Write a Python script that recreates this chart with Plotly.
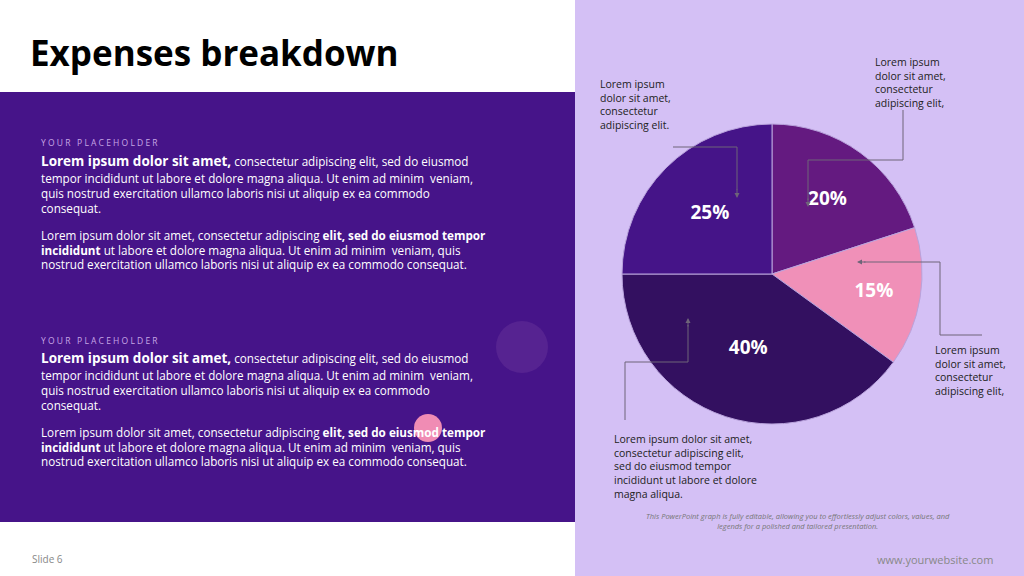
import plotly.graph_objects as go

labels = ["A", "B", "C", "D"]
values = [20, 15, 40, 25]
colors = ["#641a80", "#f090b8", "#331060", "#451488"]

W, H = 1024, 576
def px(x): return x / W
def py(y): return 1 - y / H
FONT = "Open Sans"

fig = go.Figure()
cx, cy, r = 772, 274, 150
fig.add_trace(go.Pie(
    labels=labels, values=values, sort=False, direction="clockwise", rotation=0,
    marker=dict(colors=colors, line=dict(color="#b9a3dc", width=1)),
    texttemplate="%{percent:.0%}", textposition="inside", insidetextorientation="horizontal",
    textfont=dict(family=FONT, size=19, color="white", weight="bold"),
    domain=dict(x=[px(cx - r), px(cx + r)], y=[py(cy + r), py(cy - r)]),
    showlegend=False, hoverinfo="skip"))

shapes = [
    dict(type="rect", x0=0, x1=px(575), y0=py(522), y1=py(92), fillcolor="#461489", line_width=0, layer="below"),
    dict(type="rect", x0=px(575), x1=1, y0=0, y1=1, fillcolor="#d4c0f5", line_width=0, layer="below"),
    dict(type="circle", x0=px(496), x1=px(548), y0=py(373), y1=py(321), fillcolor="#5c2a94", opacity=0.7, line_width=0, layer="below"),
    dict(type="circle", x0=px(414), x1=px(442), y0=py(442), y1=py(414), fillcolor="#f08cb4", line_width=0, layer="below"),
]
def path(pts):
    for (x0, y0), (x1, y1) in zip(pts[:-1], pts[1:]):
        shapes.append(dict(type="line", x0=px(x0), y0=py(y0), x1=px(x1), y1=py(y1),
                           line=dict(color="#6e6478", width=1)))
path([(673, 147), (737, 147), (737, 190)])
path([(903, 110), (903, 160), (808, 160), (808, 200)])
path([(864, 262), (940, 262), (940, 335), (982, 335)])
path([(625, 420), (625, 362), (688, 362), (688, 325)])

ann = []
def arrow(x, y, dx, dy):
    ann.append(dict(x=px(x), y=py(y), ax=dx, ay=dy, xref="paper", yref="paper",
                    axref="pixel", ayref="pixel", text="", showarrow=True, arrowhead=2,
                    arrowsize=1, arrowwidth=1, arrowcolor="#6e6478"))
arrow(737, 198, 0, -10)
arrow(808, 207, 0, -10)
arrow(857, 262, 10, 0)
arrow(688, 318, 0, 10)

def txt(x, y, t, size=12, color="white", xa="left", ya="middle", align="left"):
    ann.append(dict(x=px(x), y=py(y), xref="paper", yref="paper", text=t, showarrow=False,
                    xanchor=xa, yanchor=ya, align=align, font=dict(family=FONT, size=size, color=color)))

txt(28, 53, "<b>Expenses breakdown</b>", size=35, color="black")
txt(30, 559, "Slide 6", size=10, color="#888888")
txt(995, 559, "www.yourwebsite.com", size=11, color="#888888", xa="right")
txt(798, 521, "<i>This PowerPoint graph is fully editable, allowing you to effortlessly adjust colors, values, and<br>legends for a polished and tailored presentation.</i>",
    size=7.5, color="#777777", xa="center", align="center")

head = "<span style='font-size:13.5px'><b>Lorem ipsum dolor sit amet,</b></span> consectetur adipiscing elit, sed do eiusmod"
block = [
    "tempor incididunt ut labore et dolore magna aliqua. Ut enim ad minim  veniam,",
    "quis nostrud exercitation ullamco laboris nisi ut aliquip ex ea commodo",
    "consequat.",
]
block2 = [
    "Lorem ipsum dolor sit amet, consectetur adipiscing <b>elit, sed do eiusmod tempor</b>",
    "<b>incididunt</b> ut labore et dolore magna aliqua. Ut enim ad minim  veniam, quis",
    "nostrud exercitation ullamco laboris nisi ut aliquip ex ea commodo consequat.",
]
for base in (143, 340):
    txt(39, base, "Y O U R   P L A C E H O L D E R", size=8.5, color="#c7a6e6")
    txt(39, base + 18, head, size=11.7)
    for i, t in enumerate(block):
        txt(39, base + 35 + 15 * i, t, size=11.7)
    for i, t in enumerate(block2):
        txt(39, base + 92 + 14.5 * i, t, size=11.7)

txt(598, 105, "Lorem ipsum<br>dolor sit amet,<br>consectetur<br>adipiscing elit.", size=10.5, color="#222222")
txt(873, 82, "Lorem ipsum<br>dolor sit amet,<br>consectetur<br>adipiscing elit,", size=10.5, color="#222222")
txt(933, 370, "Lorem ipsum<br>dolor sit amet,<br>consectetur<br>adipiscing elit,", size=10.5, color="#222222")
txt(612, 466, "Lorem ipsum dolor sit amet,<br>consectetur adipiscing elit,<br>sed do eiusmod tempor<br>incididunt ut labore et dolore<br>magna aliqua.", size=10.5, color="#222222")

fig.update_layout(width=W, height=H, margin=dict(l=0, r=0, t=0, b=0),
                  paper_bgcolor="white", plot_bgcolor="white",
                  shapes=shapes, annotations=ann,
                  xaxis=dict(visible=False), yaxis=dict(visible=False))
fig.write_html("out.html", config={"displayModeBar": False},
               post_script="document.body.style.margin='0';document.body.style.overflow='hidden';")
